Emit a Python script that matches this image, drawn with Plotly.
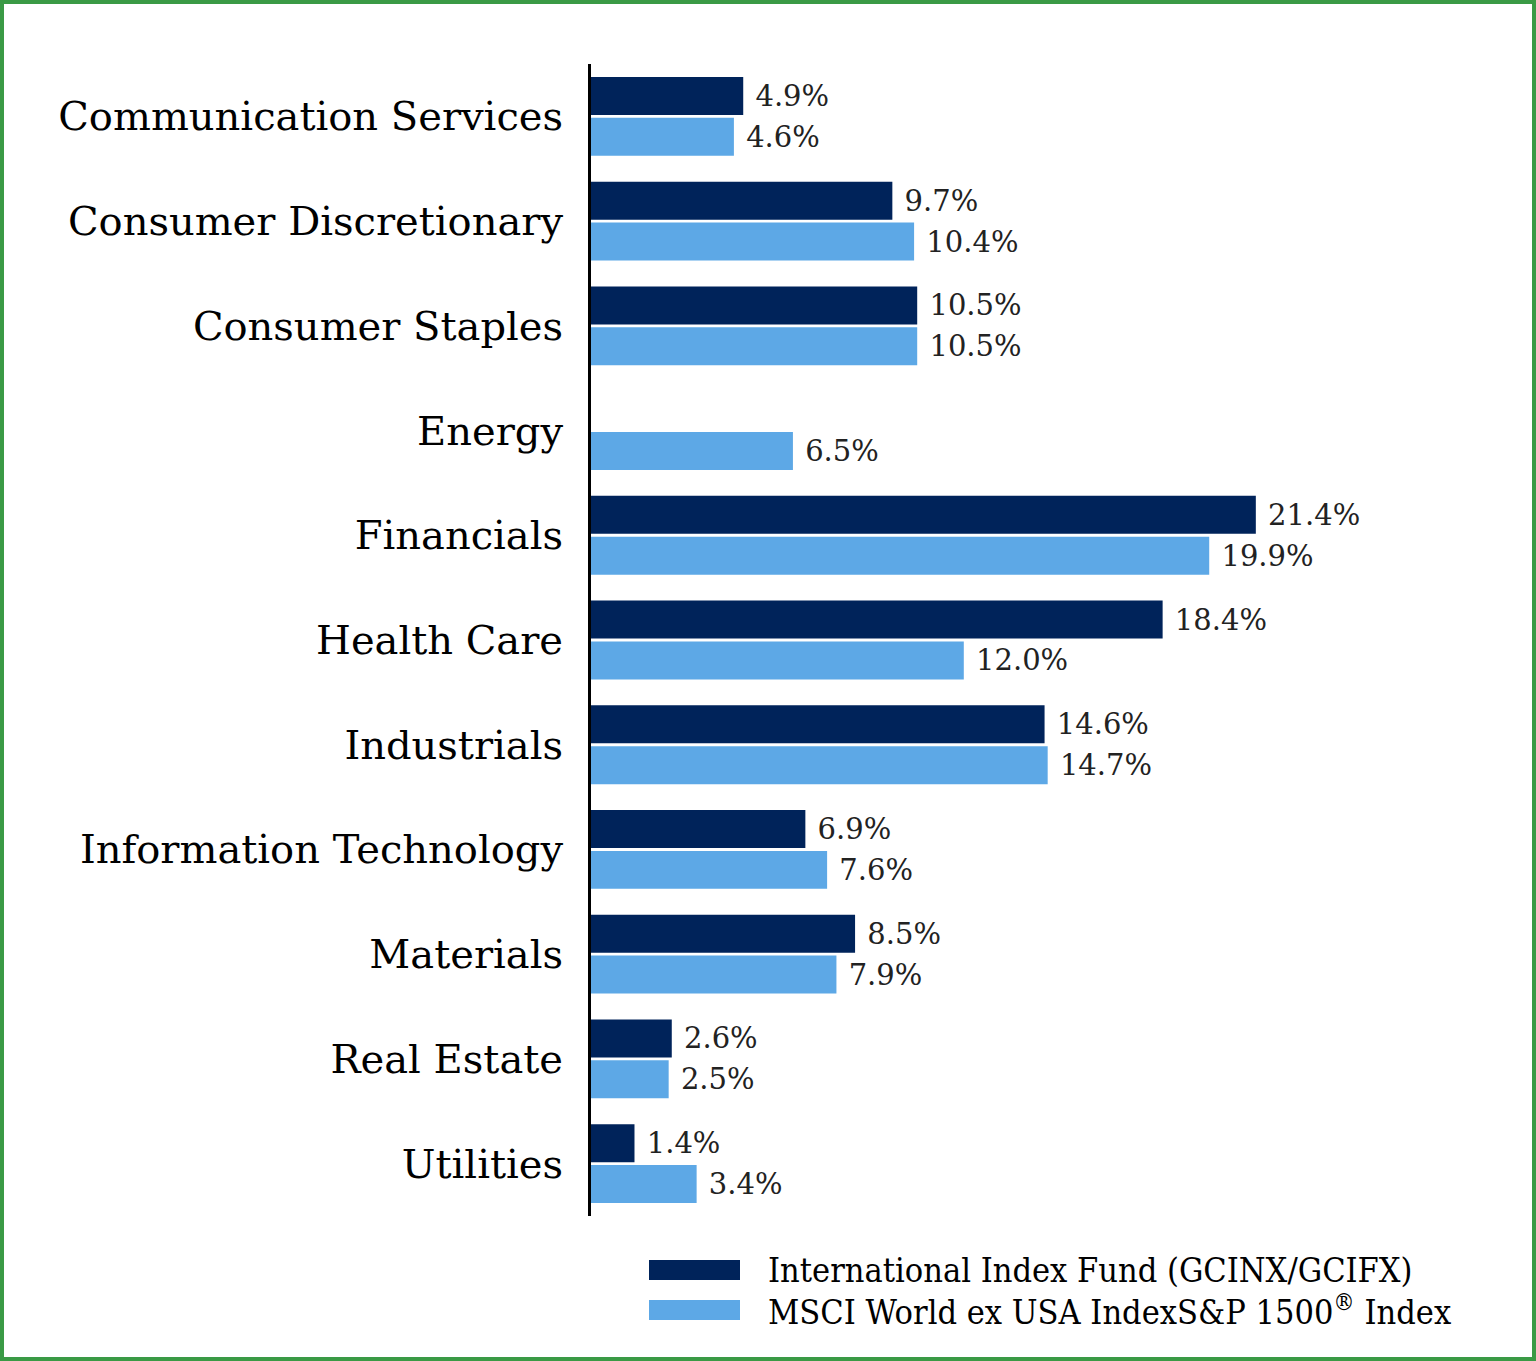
import plotly.graph_objects as go

categories = ["Communication Services", "Consumer Discretionary", "Consumer Staples", "Energy",
              "Financials", "Health Care", "Industrials", "Information Technology",
              "Materials", "Real Estate", "Utilities"]
fund_name = "International Index Fund (GCINX/GCIFX)"
index_name = "MSCI World ex USA IndexS&P 1500<sup>®</sup> Index"
fund_values = [4.9, 9.7, 10.5, None, 21.4, 18.4, 14.6, 6.9, 8.5, 2.6, 1.4]
index_values = [4.6, 10.4, 10.5, 6.5, 19.9, 12.0, 14.7, 7.6, 7.9, 2.5, 3.4]
fund_color = "#00235a"
index_color = "#5da8e6"

W, H = 1536, 1361
ML, MR, MT, MB = 591, 13, 64, 145
XMAX = 30

fig = go.Figure()
for name, vals, col in [(fund_name, fund_values, fund_color), (index_name, index_values, index_color)]:
    cats = [c for c, v in zip(categories, vals) if v is not None]
    xs = [v for v in vals if v is not None]
    fig.add_trace(go.Bar(
        y=cats, x=xs, orientation="h", name=name,
        marker=dict(color=col, line=dict(width=0)),
        text=["\u00a0" + f"{v:.1f}%" for v in xs], textposition="outside",
        textfont=dict(family="DejaVu Serif", size=29, color="#222222"),
        cliponaxis=False, showlegend=False,
    ))

fig.update_layout(
    width=W, height=H,
    margin=dict(l=ML, r=MR, t=MT, b=MB),
    paper_bgcolor="white", plot_bgcolor="white",
    barmode="group", bargap=0.22, bargroupgap=0.07,
    xaxis=dict(range=[0, XMAX], visible=False),
    yaxis=dict(autorange="reversed", showline=True, linecolor="black", linewidth=3,
               showgrid=False, ticks="", ticklabelstandoff=17,
               categoryorder="array", categoryarray=categories,
               tickfont=dict(family="DejaVu Serif", size=40, color="black")),
)

pw = W - ML - MR
ph = H - MT - MB
def px(x):
    return (x - ML) / pw
def py(y):
    return 1 - (y - MT) / ph

# border
fig.add_shape(type="rect", xref="paper", yref="paper",
              x0=px(2), x1=px(W - 2), y0=py(H - 2), y1=py(2),
              line=dict(color="#3a9a45", width=4), fillcolor="rgba(0,0,0,0)", layer="above")

# legend
for i, (name, col) in enumerate([(fund_name, fund_color), (index_name, index_color)]):
    yc = 1270 + 40 * i
    fig.add_shape(type="rect", xref="paper", yref="paper",
                  x0=px(649), x1=px(740), y0=py(yc + 10), y1=py(yc - 10),
                  line=dict(width=0), fillcolor=col)
    fig.add_annotation(xref="paper", yref="paper", x=px(766), y=py(yc),
                       xanchor="left", yanchor="middle", showarrow=False, text=name,
                       font=dict(family="DejaVu Serif Condensed", size=34, color="black"))

fig.write_html("out.html")
